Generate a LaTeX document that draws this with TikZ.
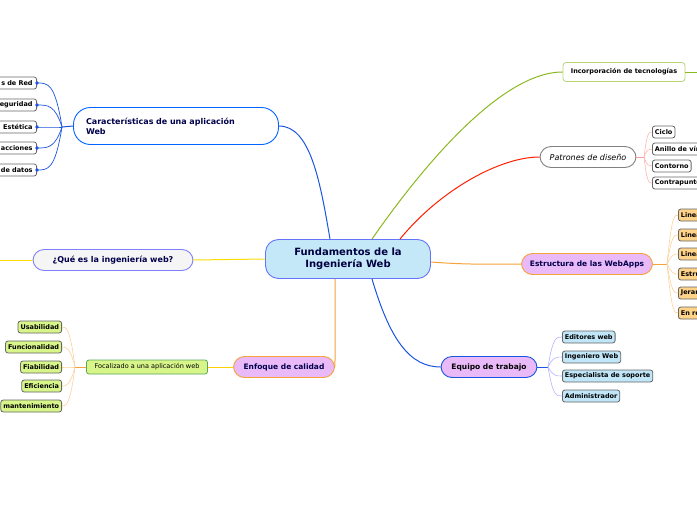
\documentclass[tikz,border=0pt]{standalone}
\usepackage{fontspec}
\setmainfont{DejaVu Sans}
\begin{document}
\begin{tikzpicture}[x=1pt,y=-1pt,
 leaf/.style={draw=gray!80!black,rounded corners=2.5pt,line width=0.8pt,font=\fontsize{6.5}{7}\selectfont\bfseries,inner sep=2.5pt,minimum height=12pt},
 main/.style={rounded corners=11pt,line width=0.9pt,font=\fontsize{7.5}{9}\selectfont\bfseries,text=blue!30!black,inner sep=4pt,minimum height=21pt},
 con/.style={line width=1pt}]
\useasboundingbox (0,0) rectangle (697,520);
\definecolor{cen}{HTML}{C5E8F8}\definecolor{pur}{HTML}{E9B9F8}
\definecolor{org}{HTML}{F7A23A}\definecolor{lg}{HTML}{D8F58A}
\definecolor{lb}{HTML}{C0E6F8}\definecolor{yo}{HTML}{FFD38A}
\definecolor{bl}{HTML}{1A55E0}\definecolor{gr}{HTML}{8AB820}
% central
\node[draw=cen!50!blue,fill=cen,rounded corners=13pt,line width=0.9pt,minimum width=165pt,minimum height=39pt,align=center,font=\fontsize{10}{12}\selectfont\bfseries,text=blue!25!black] (c) at (348,259) {Fundamentos de la\\Ingeniería Web};
% main branches
\node[main,draw=blue!60!cyan,fill=white,minimum width=205pt,minimum height=37pt,text width=180pt,align=left,font=\fontsize{8}{10}\selectfont\bfseries,rounded corners=17pt] (car) at (176,126) {Características de una aplicación\\Web};
\node[main,draw=blue!50,fill=gray!8,minimum width=160pt,font=\fontsize{8}{9}\selectfont\bfseries] (que) at (113,260) {¿Qué es la ingeniería web?};
\node[main,draw=org,fill=pur,minimum width=101pt] (enf) at (284,367) {Enfoque de calidad};
\node[main,draw=bl,fill=pur,minimum width=96pt,text=black] (equ) at (489,367) {Equipo de trabajo};
\node[main,draw=org,fill=pur,minimum width=131pt] (est) at (587,264) {Estructura de las WebApps};
\node[main,draw=gray,fill=white,minimum width=96pt,font=\fontsize{8}{9}\selectfont\itshape,text=black] (pat) at (588,157) {Patrones de diseño};
\node[draw=gr!60,fill=white,rounded corners=3pt,line width=0.8pt,minimum width=122pt,minimum height=19pt,font=\fontsize{6.5}{7}\selectfont\bfseries] (inc) at (624,72) {Incorporación de tecnologías};
\node[draw=gray!70!green,fill=lg,rounded corners=2.5pt,line width=0.8pt,minimum width=121pt,minimum height=14pt,font=\fontsize{6.5}{7}\selectfont] (foc) at (147,367) {Focalizado a una aplicación web};
% central connectors
\draw[con,bl] (c.north) ++(-18,0) coordinate (c1) .. controls (320,180) and (310,126) .. (car.east);
\draw[con,gr] (c.north) ++(24,0) .. controls (420,170) and (500,72) .. (inc.west);
\draw[con,red!75!orange] (c.north) ++(52,0) .. controls (440,190) and (500,157) .. (pat.west);
\draw[con,org] (c.east) ++(0,3) .. controls (470,265) and (490,264) .. (est.west);
\draw[con,bl] (c.south) ++(24,0) .. controls (390,340) and (410,367) .. (equ.west);
\draw[con,org] (c.south) ++(-13,0) -- (335,360) -- (enf.east);
\draw[con,yellow!80!orange] (c.west) -- (que.east);
\draw[con,yellow!80!orange] (que.west) -- (0,260);
\draw[con,gr] (inc.east) -- (697,72);
\draw[yellow!70!orange,line width=0.6pt] (enf.west) -- (foc.east);
% Car leaves
\coordinate (hc) at (62,127);
\draw[con,bl] (car.west) -- (hc);
\foreach \t/\y/\n in {s de Red/83/a,eguridad/105/b,Estética/127/d,acciones/148/e,de datos/170/f}{
 \node[leaf,anchor=east,fill=white,minimum width=70pt,text width=62pt,align=right] (c\n) at (37,\y) {\t};
 \draw[bl,line width=0.7pt] (hc) .. controls (55,\y) and (48,\y) .. (c\n.east);
 \fill[bl] (c\n.east) circle (1.8pt);}
% Focalizado leaves
\coordinate (hf) at (75,367);
\draw[org,line width=0.8pt] (foc.west) -- (hf);
\foreach \t/\y/\n in {Usabilidad/327/a,Funcionalidad/347/b,Fiabilidad/367/d,Eficiencia/386/e,mantenimiento/406/f}{
 \node[leaf,anchor=east,fill=lg] (f\n) at (62,\y) {\t};
 \draw[org!50,line width=0.6pt] (hf) .. controls (70,\y) and (66,\y) .. (f\n.east);}
% Equipo leaves
\coordinate (he) at (548,367);
\draw[bl,line width=0.8pt] (equ.east) -- (he);
\foreach \t/\y/\n in {Editores web/337/a,Ingeniero Web/357/b,Especialista de soporte/376/d,Administrador/396/e}{
 \node[leaf,anchor=west,fill=lb] (e\n) at (562,\y) {\t};
 \draw[blue!30,line width=0.6pt] (he) .. controls (553,\y) and (556,\y) .. (e\n.west);}
% Estructura leaves
\coordinate (hs) at (667,264);
\draw[org,line width=0.8pt] (est.east) -- (hs);
\foreach \t/\y/\n in {Lineal/215/a,Lineal/235/b,Lineal/254/d,Estructura/274/e,Jerarquía/293/f,En red/313/g}{
 \node[leaf,anchor=west,fill=yo,text width=50pt,align=left] (s\n) at (678,\y) {\t};
 \draw[org!50,line width=0.6pt] (hs) .. controls (672,\y) and (674,\y) .. (s\n.west);}
% Patrones leaves
\coordinate (hp) at (644,157);
\draw[red!40,line width=0.8pt] (pat.east) -- (hp);
\foreach \t/\y/\n in {Ciclo/132/a,Anillo de vínculos/149/b,Contorno/166/d,Contrapunto/183/e}{
 \node[leaf,anchor=west,fill=white] (p\n) at (652,\y) {\t};
 \draw[red!30,line width=0.6pt] (hp) .. controls (647,\y) and (649,\y) .. (p\n.west);}
\end{tikzpicture}
\end{document}
